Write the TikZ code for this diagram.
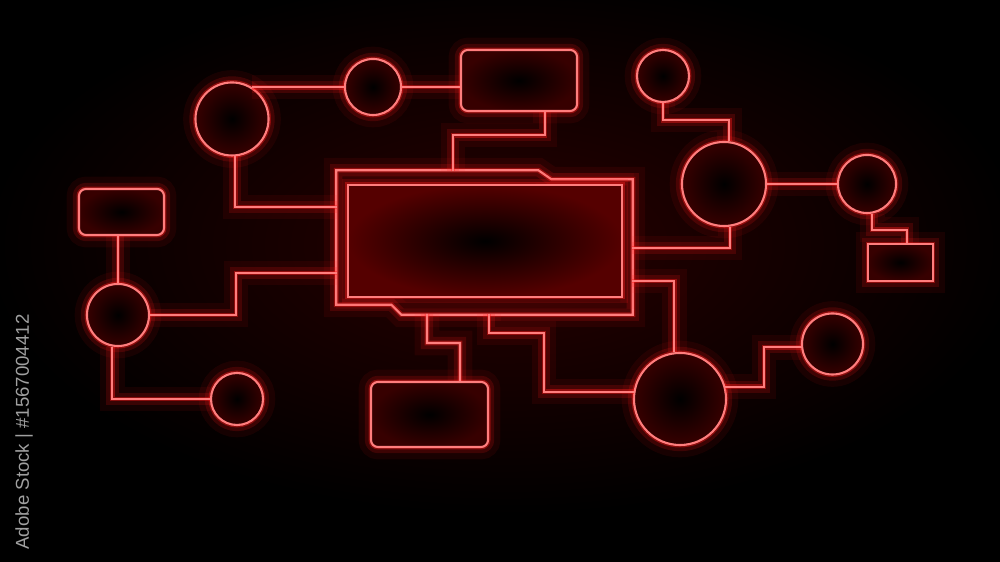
\documentclass[tikz,border=0pt]{standalone}
\usepackage{fontspec}
\newfontfamily\wmfont{Liberation Sans}
\usetikzlibrary{calc}
\definecolor{neoncore}{RGB}{255,125,125}
\definecolor{neonred}{RGB}{255,25,25}
\definecolor{hazecol}{RGB}{40,0,0}
\definecolor{innercol}{RGB}{55,0,0}
\definecolor{screencol}{RGB}{85,0,0}
\definecolor{wmgray}{RGB}{160,160,160}
\tikzset{
  glow/.style={
    preaction={draw=neonred,line width=7pt,opacity=0.07},
    preaction={draw=neonred,line width=3.5pt,opacity=0.16},
    preaction={draw=neonred,line width=1.4pt,opacity=0.4},
    draw=neoncore, line width=0.6pt},
  wire/.style={glow, line join=miter},
  disc/.style={circle, glow, inner sep=0pt, shading=radial, inner color=black, outer color=innercol},
  card/.style={rectangle, glow, rounded corners=2pt, inner sep=0pt, shading=radial, inner color=black, outer color=innercol},
  plate/.style={rectangle, glow, inner sep=0pt, shading=radial, inner color=black, outer color=innercol},
  wmark/.style={rotate=90, text=wmgray, font=\wmfont\fontsize{5.3}{6}\selectfont, inner sep=0pt}
}
\begin{document}
\begin{tikzpicture}[x=0.01cm,y=-0.01cm]
\useasboundingbox (0,0) rectangle (1000,562);
\fill[black] (0,0) rectangle (1000,562);
\shade[inner color=hazecol, outer color=black] (505,245) ellipse (520 and 270);

% nodes
\node[disc, minimum size=0.73cm] (c1) at (232,119) {};
\node[disc, minimum size=0.56cm] (c2) at (373,87) {};
\node[card, minimum width=1.16cm, minimum height=0.61cm] (tr) at (519,80.5) {};
\node[card, minimum width=0.85cm, minimum height=0.46cm] (r1) at (121.5,212) {};
\node[disc, minimum size=0.62cm] (c3) at (118,315) {};
\node[disc, minimum size=0.52cm] (c4) at (237,399) {};
\node[disc, minimum size=0.52cm] (c5) at (663,76) {};
\node[disc, minimum size=0.84cm] (c6) at (724,184) {};
\node[disc, minimum size=0.58cm] (c7) at (867,184) {};
\node[plate, minimum width=0.65cm, minimum height=0.37cm] (r2) at (900.5,262.5) {};
\node[disc, minimum size=0.92cm] (c8) at (680,399) {};
\node[disc, minimum size=0.61cm] (c9) at (832.5,344) {};
\node[card, minimum width=1.17cm, minimum height=0.65cm] (r3) at (429.5,414.5) {};

% central frame
\node[minimum width=2.95cm, minimum height=1.43cm, inner sep=0pt] (frame) at (484.5,242.5) {};
\draw[wire] (frame.north west) -- ([xshift=2.02cm]frame.north west)
  -- ([xshift=2.15cm,yshift=-0.09cm]frame.north west)
  -- ([yshift=-0.09cm]frame.north east) -- (frame.south east)
  -- ([xshift=0.65cm]frame.south west)
  -- ([xshift=0.55cm,yshift=0.10cm]frame.south west)
  -- ([yshift=0.10cm]frame.south west) -- cycle;
\node[plate, minimum width=2.74cm, minimum height=1.12cm, outer color=screencol] (screen) at (485,241) {};

% ports on the frame
\coordinate (fT) at (453,171);
\coordinate (fL1) at (337,207);
\coordinate (fL2) at (337,273);
\coordinate (fR1) at (632,248);
\coordinate (fR2) at (632,281);
\coordinate (fB1) at (427,314);
\coordinate (fB2) at (489,314);

% connectors
\draw[wire] (c1.58) -- (c1.58 -| c2.west);
\draw[wire] (c2.east) -- (c2.east -| tr.west);
\draw[wire] ([xshift=0.26cm]tr.south) -- ++(0,23) -| (fT);
\draw[wire] (c1.-85) |- (fL1);
\draw[wire] (fL2) -- ++(-101,0) |- (c3.east);
\draw[wire] (c3.north) -- (c3.north |- r1.south);
\draw[wire] (c3.260) |- (c4.west);
\draw[wire] (c5.south) -- ++(0,17) -| (c6.83);
\draw[wire] (c6.-82) |- (fR1);
\draw[wire] (c6.east) -- (c7.west);
\draw[wire] (c7.-80) -- ++(0,16) -| ([xshift=0.065cm]r2.north);
\draw[wire] (fR2) -| (c8.97);
\draw[wire] (fB2) |- (544,333) |- (c8.171);
\draw[wire] (fB1) |- (460,343) -- ([xshift=0.305cm]r3.north);
\draw[wire] (c8.15) -- (c8.15 -| 764,0) |- (c9.186);

% vertical credit text
\node[wmark] (credit) at (24,432) {Adobe Stock | \#1567004412};
\end{tikzpicture}
\end{document}
